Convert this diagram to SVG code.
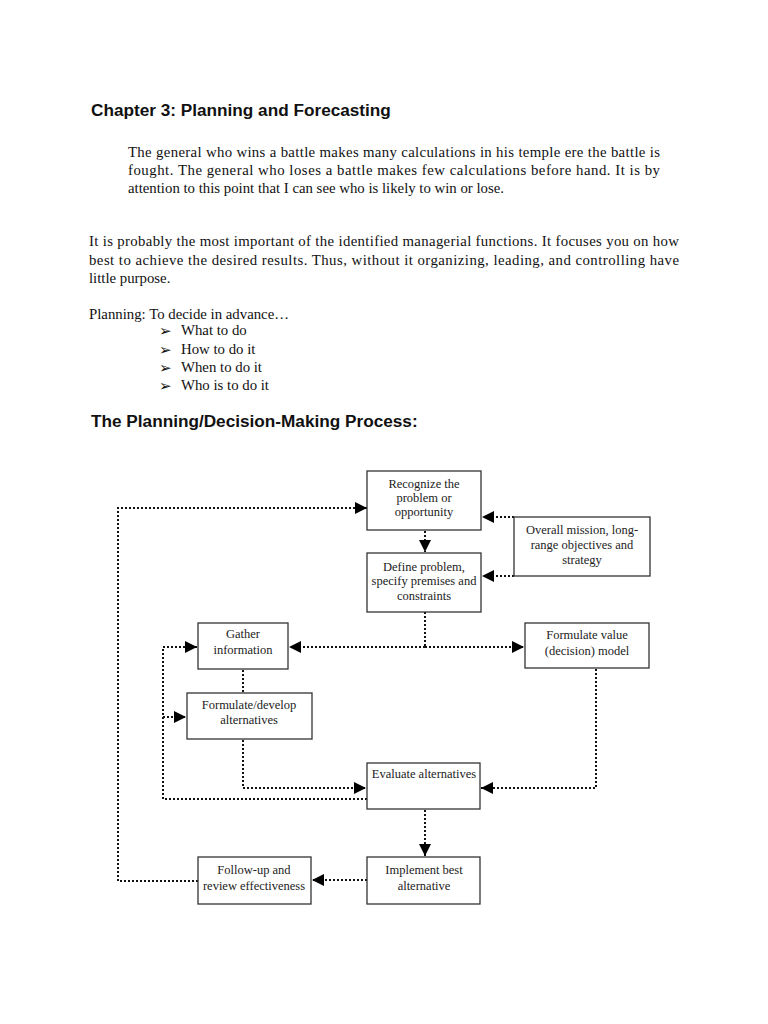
<svg xmlns="http://www.w3.org/2000/svg" width="768" height="1024" viewBox="0 0 768 1024">
<defs>
<style>
.h{font-family:"Liberation Sans",Arial,sans-serif;font-weight:bold;font-size:17.2px;fill:#111}
.t{font-family:"Liberation Serif","Times New Roman",serif;font-size:14.8px;fill:#111}
.b{font-family:"DejaVu Sans",sans-serif;font-size:15px;fill:#111}
.n{font-family:"Liberation Serif","Times New Roman",serif;font-size:12.5px;fill:#222;text-anchor:middle}
.box{fill:#fff;stroke:#333;stroke-width:1.3}
.c{fill:none;stroke:#111;stroke-width:2;stroke-dasharray:2 2}
</style>
<marker id="ah" viewBox="0 0 12 12" refX="12" refY="6" markerWidth="12" markerHeight="12" markerUnits="userSpaceOnUse" orient="auto">
<path d="M0,0 L12,6 L0,12 z" fill="#000"/>
</marker>
</defs>
<rect width="768" height="1024" fill="#fff"/>

<text class="h" x="91" y="116">Chapter 3: Planning and Forecasting</text>
<text class="t" x="128" y="157" textLength="532" lengthAdjust="spacing">The general who wins a battle makes many calculations in his temple ere the battle is</text>
<text class="t" x="128" y="175" textLength="532" lengthAdjust="spacing">fought. The general who loses a battle makes few calculations before hand. It is by</text>
<text class="t" x="128" y="193">attention to this point that I can see who is likely to win or lose.</text>

<text class="t" x="89" y="246" textLength="590" lengthAdjust="spacing">It is probably the most important of the identified managerial functions. It focuses you on how</text>
<text class="t" x="89" y="265" textLength="590" lengthAdjust="spacing">best to achieve the desired results. Thus, without it organizing, leading, and controlling have</text>
<text class="t" x="89" y="283">little purpose.</text>

<text class="t" x="89" y="319">Planning: To decide in advance…</text>
<text class="b" x="159" y="336">➢</text><text class="t" x="181" y="335">What to do</text>
<text class="b" x="159" y="355">➢</text><text class="t" x="181" y="354">How to do it</text>
<text class="b" x="159" y="373">➢</text><text class="t" x="181" y="372">When to do it</text>
<text class="b" x="159" y="391">➢</text><text class="t" x="181" y="390">Who is to do it</text>

<text class="h" x="91" y="427">The Planning/Decision-Making Process:</text>

<g id="connectors">
<polyline class="c" points="198,881 118,881 118,508 367,508" marker-end="url(#ah)"/>
<line class="c" x1="514" y1="517" x2="482" y2="517" marker-end="url(#ah)"/>
<line class="c" x1="514" y1="576" x2="482" y2="576" marker-end="url(#ah)"/>
<line class="c" x1="425" y1="531" x2="425" y2="552" marker-end="url(#ah)"/>
<line class="c" x1="425" y1="612" x2="425" y2="647"/>
<line class="c" x1="425" y1="647" x2="289" y2="647" marker-end="url(#ah)"/>
<line class="c" x1="425" y1="647" x2="524" y2="647" marker-end="url(#ah)"/>
<line class="c" x1="243" y1="670" x2="243" y2="692"/>
<polyline class="c" points="243,740 243,788 366,788" marker-end="url(#ah)"/>
<polyline class="c" points="596,669 596,788 481,788" marker-end="url(#ah)"/>
<polyline class="c" points="367,799 163,799 163,647 197,647" marker-end="url(#ah)"/>
<line class="c" x1="163" y1="717" x2="186" y2="717" marker-end="url(#ah)"/>
<line class="c" x1="425" y1="810" x2="425" y2="856" marker-end="url(#ah)"/>
<line class="c" x1="367" y1="880" x2="312" y2="880" marker-end="url(#ah)"/>
</g>

<g id="recognize">
<rect class="box" x="367" y="471" width="114" height="59"/>
<text class="n" x="424" y="488">Recognize the</text>
<text class="n" x="424" y="502">problem or</text>
<text class="n" x="424" y="516">opportunity</text>
</g>
<g id="mission">
<rect class="box" x="514" y="517" width="136" height="59"/>
<text class="n" x="582" y="534">Overall mission, long-</text>
<text class="n" x="582" y="549">range objectives and</text>
<text class="n" x="582" y="564">strategy</text>
</g>
<g id="define">
<rect class="box" x="367" y="553" width="114" height="59"/>
<text class="n" x="424" y="571">Define problem,</text>
<text class="n" x="424" y="585">specify premises and</text>
<text class="n" x="424" y="600">constraints</text>
</g>
<g id="gather">
<rect class="box" x="198" y="623" width="90" height="46"/>
<text class="n" x="243" y="638">Gather</text>
<text class="n" x="243" y="654">information</text>
</g>
<g id="value">
<rect class="box" x="525" y="623" width="124" height="45"/>
<text class="n" x="587" y="639">Formulate value</text>
<text class="n" x="587" y="655">(decision) model</text>
</g>
<g id="develop">
<rect class="box" x="187" y="693" width="125" height="46"/>
<text class="n" x="249" y="709">Formulate/develop</text>
<text class="n" x="249" y="724">alternatives</text>
</g>
<g id="evaluate">
<rect class="box" x="367" y="763" width="113" height="46"/>
<text class="n" x="424" y="778">Evaluate alternatives</text>
</g>
<g id="implement">
<rect class="box" x="367" y="857" width="113" height="47"/>
<text class="n" x="424" y="874">Implement best</text>
<text class="n" x="424" y="890">alternative</text>
</g>
<g id="followup">
<rect class="box" x="198" y="857" width="113" height="47"/>
<text class="n" x="254" y="874">Follow-up and</text>
<text class="n" x="254" y="890">review effectiveness</text>
</g>
</svg>
